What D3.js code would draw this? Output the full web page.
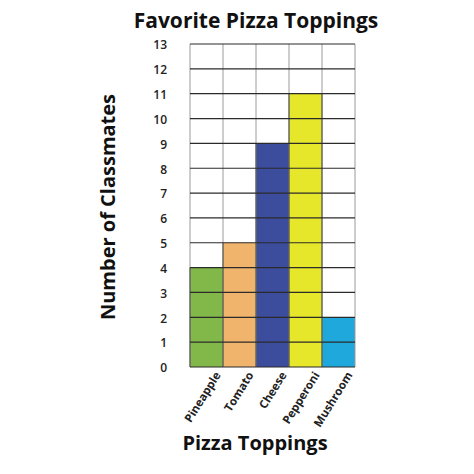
<!DOCTYPE html>
<html>
<head>
<meta charset="utf-8">
<script src="https://cdn.jsdelivr.net/npm/d3@7.9.0/dist/d3.min.js"></script>
<style>
  body { margin: 0; background: #fff; }
  text { font-family: "Open Sans", sans-serif; }
</style>
</head>
<body>
<div id="chart"></div>
<script>
// chart data
const toppings = ["Pineapple", "Tomato", "Cheese", "Pepperoni", "Mushroom"];
const classmates = [4, 5, 9, 11, 2];
const barColors = ["#82b84a", "#f0b46c", "#3c4d9e", "#e6e62a", "#1ea8dc"];
const yTicks = d3.range(0, 14);

const width = 474;
const height = 474;

const x = d3.scaleBand()
  .domain(toppings)
  .range([190, 355])
  .padding(0);

const y = d3.scaleLinear()
  .domain([0, 13])
  .range([367, 44]);

const svg = d3.select("#chart")
  .append("svg")
  .attr("width", width)
  .attr("height", height);

// bars
svg.append("g")
  .selectAll("rect")
  .data(toppings)
  .join("rect")
  .attr("x", d => x(d))
  .attr("y", (d, i) => y(classmates[i]))
  .attr("width", x.bandwidth())
  .attr("height", (d, i) => y(0) - y(classmates[i]))
  .attr("fill", (d, i) => barColors[i]);

// vertical grid lines (grey), darker where bars touch
const edges = toppings.map(d => x(d)).concat([x.range()[1]]);
svg.append("g")
  .selectAll("line")
  .data(edges)
  .join("line")
  .attr("x1", d => d)
  .attr("x2", d => d)
  .attr("y1", y(13))
  .attr("y2", y(0))
  .attr("stroke", "#9a9a9a")
  .attr("stroke-width", 1);

svg.append("g")
  .selectAll("line")
  .data(toppings)
  .join("line")
  .attr("x1", d => x(d))
  .attr("x2", d => x(d))
  .attr("y1", (d, i) => {
    const prev = i > 0 ? classmates[i - 1] : 0;
    return y(Math.max(prev, classmates[i]));
  })
  .attr("y2", y(0))
  .attr("stroke", "#4a4a3a")
  .attr("stroke-width", 1);

// horizontal grid lines
svg.append("g")
  .selectAll("line")
  .data(yTicks)
  .join("line")
  .attr("x1", x.range()[0])
  .attr("x2", x.range()[1])
  .attr("y1", d => y(d))
  .attr("y2", d => y(d))
  .attr("stroke", "#2b2b2b")
  .attr("stroke-width", 1.2);

// y axis tick labels
svg.append("g")
  .attr("transform", "translate(167,0)")
  .call(d3.axisLeft(y).tickValues(yTicks).tickSize(0).tickPadding(0))
  .call(g => g.select(".domain").remove())
  .call(g => g.selectAll("text")
    .attr("dy", "0.4em")
    .attr("fill", "#222")
    .style("font-family", "'Open Sans', sans-serif")
    .style("font-size", "12px")
    .style("font-weight", "600"));

// x axis tick labels
svg.append("g")
  .attr("transform", `translate(0,${y(0)})`)
  .call(d3.axisBottom(x).tickSize(0).tickPadding(0))
  .call(g => g.select(".domain").remove())
  .call(g => g.selectAll("text")
    .attr("text-anchor", "end")
    .attr("dy", null)
    .attr("y", 0)
    .attr("transform", `translate(${x.bandwidth() / 2 - 2},8) rotate(-58)`)
    .attr("fill", "#222")
    .style("font-family", "'Open Sans', sans-serif")
    .style("font-size", "11.5px")
    .style("font-weight", "700"));

// title
svg.append("text")
  .attr("x", 256)
  .attr("y", 28)
  .attr("text-anchor", "middle")
  .attr("fill", "#111")
  .style("font-size", "21px")
  .style("font-weight", "700")
  .text("Favorite Pizza Toppings");

// y axis title
svg.append("text")
  .attr("transform", "translate(115,207) rotate(-90)")
  .attr("text-anchor", "middle")
  .attr("fill", "#111")
  .style("font-size", "20px")
  .style("font-weight", "700")
  .text("Number of Classmates");

// x axis title
svg.append("text")
  .attr("x", 255)
  .attr("y", 450)
  .attr("text-anchor", "middle")
  .attr("fill", "#111")
  .style("font-size", "20px")
  .style("font-weight", "700")
  .text("Pizza Toppings");
</script>
</body>
</html>
